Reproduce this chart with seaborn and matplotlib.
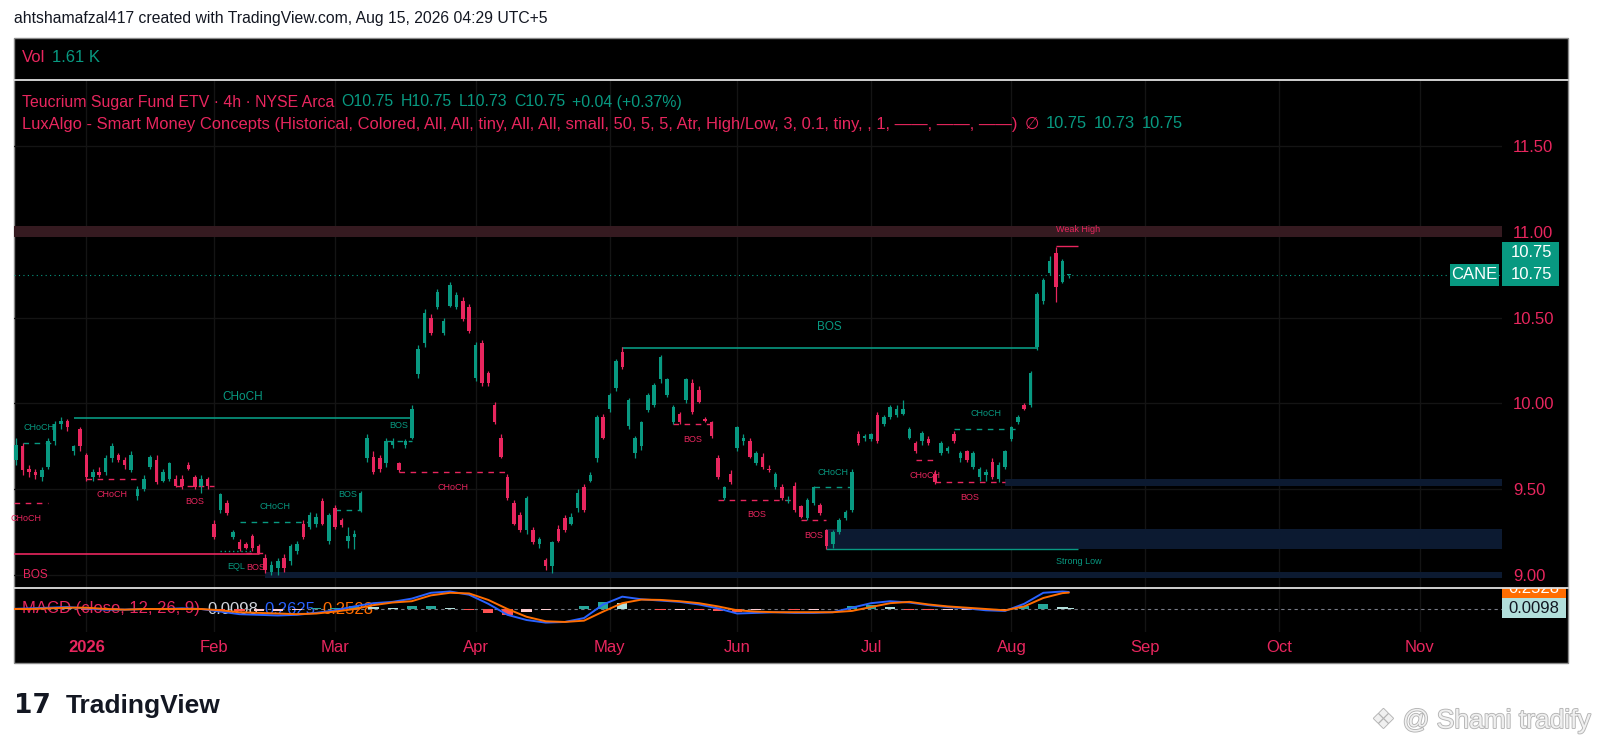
import numpy as np
import pandas as pd
import matplotlib
matplotlib.use("Agg")
import matplotlib.pyplot as plt
import matplotlib.transforms as mtransforms
import matplotlib.patheffects as pe
from matplotlib.patches import Rectangle
from matplotlib.lines import Line2D
import seaborn as sns

# ---------------------------------------------------------------- data
first_session = "2025-12-15"
market_holidays = ["2025-12-25", "2026-01-01", "2026-01-19", "2026-02-16", "2026-04-03",
                   "2026-05-25", "2026-06-19", "2026-07-03", "2026-09-07", "2026-11-26"]
month_labels = ["2026", "Feb", "Mar", "Apr", "May", "Jun", "Jul", "Aug", "Sep", "Oct", "Nov"]
price_ticks = [9.00, 9.50, 10.00, 10.50, 11.00, 11.50]

open_ = [9.62, 9.67, 9.75, 9.62, 9.60, 9.57, 9.63, 9.78, 9.88, 9.90, 9.72, 9.85,
         9.70, 9.57, 9.60, 9.60, 9.68, 9.70, 9.67, 9.61, 9.46, 9.50, 9.63, 9.67, 9.55, 9.56,
         9.56, 9.56, 9.64, 9.57, 9.52, 9.56,
         9.30, 9.38, 9.42, 9.22, 9.19, 9.18, 9.23, 9.17, 9.10, 9.02, 9.04, 9.10, 9.08, 9.14,
         9.30, 9.28, 9.30, 9.43, 9.20,
         9.39, 9.32, 9.20, 9.22, 9.38, 9.68, 9.69, 9.68, 9.65, 9.76, 9.65, 9.76, 9.80, 10.17,
         10.35, 10.50, 10.56, 10.41, 10.57, 10.56, 10.60, 10.56,
         10.15, 10.35, 10.18, 9.99, 9.80, 9.57, 9.42, 9.35, 9.26, 9.26, 9.18, 9.09, 9.05, 9.27,
         9.33, 9.30, 9.39, 9.51, 9.55, 9.68, 9.92,
         9.97, 10.09, 10.30, 9.87, 9.71, 9.75, 9.96, 9.99, 10.14, 10.05, 9.89, 9.94, 10.02,
         10.12, 10.08, 9.91, 9.89, 9.68, 9.45, 9.59,
         9.74, 9.78, 9.78, 9.65, 9.69, 9.62, 9.51, 9.51, 9.43, 9.52, 9.40, 9.33, 9.42, 9.41,
         9.26, 9.18, 9.25, 9.33, 9.38, 9.82, 9.80,
         9.79, 9.93, 9.88, 9.92, 9.93, 9.94, 9.80, 9.77, 9.78, 9.79, 9.59, 9.71, 9.72, 9.82,
         9.68, 9.72, 9.63, 9.57, 9.58, 9.66, 9.56, 9.63,
         9.79, 9.89, 9.99, 9.99, 10.33, 10.60, 10.76, 10.88, 10.71, 10.75]
high_ = [9.72, 9.80, 9.77, 9.64, 9.62, 9.63, 9.80, 9.90, 9.92, 9.91, 9.76, 9.86,
         9.71, 9.62, 9.63, 9.70, 9.77, 9.71, 9.69, 9.72, 9.52, 9.58, 9.70, 9.70, 9.62, 9.66,
         9.58, 9.58, 9.66, 9.58, 9.58, 9.57,
         9.32, 9.48, 9.44, 9.26, 9.21, 9.19, 9.24, 9.18, 9.12, 9.08, 9.10, 9.12, 9.18, 9.20,
         9.32, 9.37, 9.36, 9.45, 9.36,
         9.41, 9.33, 9.28, 9.26, 9.49, 9.82, 9.72, 9.70, 9.80, 9.80, 9.66, 9.79, 9.99, 10.34,
         10.55, 10.52, 10.67, 10.50, 10.71, 10.65, 10.62, 10.58,
         10.36, 10.37, 10.19, 10.01, 9.82, 9.59, 9.44, 9.37, 9.46, 9.28, 9.22, 9.10, 9.20, 9.29,
         9.35, 9.36, 9.50, 9.53, 9.60, 9.93, 9.94,
         10.06, 10.26, 10.33, 10.03, 9.81, 9.90, 10.06, 10.12, 10.28, 10.15, 9.99, 9.95, 10.15,
         10.14, 10.10, 9.92, 9.90, 9.70, 9.52, 9.61,
         9.87, 9.82, 9.80, 9.72, 9.71, 9.64, 9.60, 9.53, 9.46, 9.54, 9.41, 9.45, 9.52, 9.42,
         9.27, 9.26, 9.33, 9.38, 9.62, 9.84, 9.82,
         9.83, 9.95, 9.93, 9.99, 9.99, 10.02, 9.86, 9.78, 9.84, 9.81, 9.61, 9.78, 9.75, 9.84,
         9.72, 9.73, 9.72, 9.63, 9.62, 9.68, 9.66, 9.73,
         9.87, 9.93, 10.00, 10.19, 10.65, 10.73, 10.86, 10.91, 10.84, 10.75]
low_ = [9.60, 9.64, 9.58, 9.57, 9.56, 9.55, 9.62, 9.76, 9.85, 9.84, 9.70, 9.72,
        9.55, 9.55, 9.57, 9.58, 9.66, 9.66, 9.62, 9.60, 9.44, 9.49, 9.62, 9.53, 9.54, 9.55,
        9.51, 9.50, 9.61, 9.50, 9.48, 9.50,
        9.21, 9.36, 9.35, 9.21, 9.14, 9.15, 9.14, 9.12, 9.01, 9.00, 9.00, 9.02, 9.06, 9.12,
        9.21, 9.27, 9.28, 9.29, 9.18,
        9.27, 9.28, 9.16, 9.15, 9.37, 9.66, 9.59, 9.60, 9.63, 9.74, 9.60, 9.74, 9.79, 10.15,
        10.33, 10.40, 10.55, 10.40, 10.56, 10.55, 10.48, 10.41,
        10.13, 10.10, 10.10, 9.88, 9.68, 9.44, 9.29, 9.25, 9.24, 9.18, 9.16, 9.03, 9.01, 9.19,
        9.25, 9.29, 9.37, 9.37, 9.54, 9.66, 9.79,
        9.95, 10.07, 10.20, 9.85, 9.68, 9.73, 9.95, 9.98, 10.12, 10.04, 9.88, 9.88, 10.00,
        9.94, 10.00, 9.89, 9.80, 9.56, 9.44, 9.53,
        9.72, 9.76, 9.68, 9.64, 9.62, 9.60, 9.50, 9.44, 9.42, 9.37, 9.33, 9.32, 9.41, 9.35,
        9.15, 9.16, 9.24, 9.32, 9.37, 9.76, 9.78,
        9.78, 9.77, 9.87, 9.91, 9.92, 9.93, 9.79, 9.71, 9.76, 9.76, 9.53, 9.70, 9.71, 9.77,
        9.66, 9.66, 9.62, 9.55, 9.55, 9.56, 9.54, 9.62,
        9.78, 9.88, 9.96, 9.98, 10.31, 10.58, 10.75, 10.59, 10.70, 10.73]
close_ = [9.70, 9.76, 9.61, 9.60, 9.58, 9.61, 9.78, 9.88, 9.90, 9.86, 9.75, 9.75,
          9.57, 9.60, 9.58, 9.68, 9.75, 9.67, 9.64, 9.70, 9.50, 9.56, 9.69, 9.54, 9.60, 9.65,
          9.52, 9.52, 9.62, 9.51, 9.56, 9.52,
          9.22, 9.47, 9.36, 9.25, 9.15, 9.16, 9.16, 9.13, 9.03, 9.06, 9.08, 9.04, 9.17, 9.18,
          9.22, 9.35, 9.34, 9.30, 9.35,
          9.28, 9.29, 9.23, 9.24, 9.48, 9.80, 9.60, 9.62, 9.78, 9.78, 9.61, 9.78, 9.97, 10.32,
          10.53, 10.41, 10.65, 10.48, 10.69, 10.63, 10.49, 10.42,
          10.34, 10.12, 10.12, 9.89, 9.69, 9.45, 9.30, 9.26, 9.45, 9.19, 9.21, 9.05, 9.19, 9.20,
          9.26, 9.34, 9.48, 9.38, 9.58, 9.92, 9.80,
          10.05, 10.25, 10.21, 10.02, 9.80, 9.89, 10.05, 10.11, 10.27, 10.14, 9.98, 9.89, 10.14,
          9.95, 10.01, 9.90, 9.81, 9.57, 9.51, 9.54,
          9.86, 9.80, 9.69, 9.71, 9.63, 9.61, 9.59, 9.45, 9.44, 9.38, 9.34, 9.44, 9.51, 9.36,
          9.17, 9.25, 9.32, 9.37, 9.60, 9.77, 9.81,
          9.82, 9.78, 9.92, 9.98, 9.97, 9.97, 9.85, 9.72, 9.83, 9.77, 9.54, 9.77, 9.74, 9.78,
          9.71, 9.67, 9.71, 9.62, 9.60, 9.57, 9.64, 9.72,
          9.86, 9.92, 9.97, 10.18, 10.64, 10.72, 10.83, 10.68, 10.83, 10.75]

macd_session = [0, 3, 6, 9, 12, 15, 18, 21, 24, 27, 30, 33, 36, 39, 42, 45, 48, 51, 54, 57,
                60, 63, 66, 69, 72, 75, 78, 81, 84, 87, 90, 93, 96, 99, 102, 105, 108, 111,
                114, 117, 120, 123, 126, 129, 132, 135, 138, 141, 144, 147, 150, 153, 156,
                159, 162, 165, 166]
macd_line = [0.00, 0.01, 0.02, 0.03, 0.01, -0.01, -0.01, 0.00, 0.00, 0.01,
             0.00, -0.04, -0.08, -0.09, -0.10, -0.09, -0.06, -0.02, 0.04, 0.09,
             0.11, 0.16, 0.25, 0.27, 0.22, 0.08, -0.09, -0.17, -0.21, -0.20,
             -0.14, 0.07, 0.19, 0.15, 0.13, 0.11, 0.07, 0.01, -0.07, -0.06,
             -0.05, -0.06, -0.06, -0.05, 0.02, 0.09, 0.12, 0.10, 0.06, 0.03,
             0.01, -0.02, -0.03, 0.08, 0.25, 0.27, 0.2625]
signal_line = [0.00, 0.00, 0.01, 0.02, 0.02, 0.00, -0.01, 0.00, 0.00, 0.00,
               0.00, -0.02, -0.05, -0.06, -0.07, -0.08, -0.07, -0.04, 0.00, 0.06,
               0.10, 0.12, 0.21, 0.25, 0.24, 0.14, 0.00, -0.12, -0.19, -0.20,
               -0.18, -0.04, 0.09, 0.145, 0.14, 0.12, 0.09, 0.04, -0.02, -0.04,
               -0.05, -0.05, -0.05, -0.05, -0.03, 0.03, 0.09, 0.11, 0.07, 0.04,
               0.02, 0.00, -0.02, 0.04, 0.17, 0.245, 0.2528]

# Smart Money Concepts structure (session index where it starts / ends, level)
swing_start = [-31, 10, 96]
swing_end = [39, 63, 161]
swing_level = [9.12, 9.915, 10.325]
swing_text = ["BOS", "CHoCH", "BOS"]
swing_bull = [False, True, True]

int_start = [-1, 2, 12, 26, 36, 51, 59, 61, 104, 111, 124, 126, 142, 145, 148, 37]
int_end = [6, 7, 20, 32, 47, 55, 63, 78, 110, 123, 128, 132, 145, 156, 158, 40]
int_level = [9.42, 9.77, 9.56, 9.52, 9.31, 9.38, 9.78, 9.60, 9.88, 9.44, 9.32, 9.51,
             9.67, 9.54, 9.85, 9.13]
int_text = ["CHoCH", "CHoCH", "CHoCH", "BOS", "CHoCH", "BOS", "BOS", "CHoCH", "BOS", "BOS",
            "BOS", "CHoCH", "CHoCH", "BOS", "CHoCH", "BOS"]
int_bull = [False, True, False, False, True, True, True, False, False, False,
            False, True, False, False, True, False]

eql_start, eql_end, eql_level = 33, 38, 9.14

zone_start = [-5, 40, 128, 156]
zone_low = [10.97, 8.98, 9.15, 9.52]
zone_high = [11.035, 9.02, 9.27, 9.56]
zone_color = ["#351a20", "#0c1a31", "#0c1a31", "#0c1a31"]

trail_start = [164, 128]
trail_end = [167.5, 167.5]
trail_level = [10.92, 9.15]
trail_text = ["Weak High", "Strong Low"]
trail_bull = [False, True]

title_text = "ahtshamafzal417 created with TradingView.com, Aug 15, 2026 04:29 UTC+5"
legend_symbol = "Teucrium Sugar Fund ETV \u00b7 4h \u00b7 NYSE Arca"
legend_ohlc = ["O10.75", "H10.75", "L10.73", "C10.75", "+0.04 (+0.37%)"]
legend_smc = ("LuxAlgo - Smart Money Concepts (Historical, Colored, All, All, tiny, All, All, "
              "small, 50, 5, 5, Atr, High/Low, 3, 0.1, tiny, , 1, \u2014\u2014, \u2014\u2014, \u2014\u2014)")
legend_smc_vals = ["10.75", "10.73", "10.75"]
macd_title = "MACD (close, 12, 26, 9)"
macd_vals_txt = ["0.0098", "0.2625", "0.2528"]
vol_text = "1.61 K"

# ---------------------------------------------------------------- style
sns.set_theme(style="dark", rc={"axes.facecolor": "black", "figure.facecolor": "white"})
plt.rcParams["font.family"] = ["Liberation Sans", "DejaVu Sans"]

GREEN = "#089981"
RED = "#e8265e"
BLUE = "#2962ff"
ORANGE = "#ff6d00"
GRID = "#141414"

W, H, DPI = 1600, 746, 100
fig = plt.figure(figsize=(W / DPI, H / DPI), dpi=DPI)
fig.patch.set_facecolor("white")


def box(x0, y0, x1, y1):
    return [x0 / W, 1 - y1 / H, (x1 - x0) / W, (y1 - y0) / H]


FX0, FX1, FY0, FY1 = 14, 1568, 38, 663
PX1 = 1502
VOL_Y1, MAIN_Y1, MACD_Y1 = 80, 588, 632

fig.patches.append(Rectangle((FX0 / W, 1 - FY1 / H), (FX1 - FX0) / W, (FY1 - FY0) / H,
                             transform=fig.transFigure, facecolor="black",
                             edgecolor="#8a8a8a", lw=1.0, zorder=-10))

ax = fig.add_axes(box(FX0, VOL_Y1, PX1, MAIN_Y1))
axm = fig.add_axes(box(FX0, MAIN_Y1, PX1, MACD_Y1), sharex=ax)
axp = fig.add_axes(box(PX1, VOL_Y1, FX1, MAIN_Y1))
axq = fig.add_axes(box(PX1, MAIN_Y1, FX1, MACD_Y1))
for a in (ax, axm, axp, axq):
    a.set_facecolor("none")
    for s in a.spines.values():
        s.set_visible(False)

sessions = pd.bdate_range(first_session, "2026-12-31", freq="C", holidays=market_holidays)
month_pos = [int(np.argmax((sessions.year == 2026) & (sessions.month == m))) for m in range(1, 12)]

view_first, view_last = 0.65, 233.9
ax.set_xlim(view_first, view_last)
ax.set_ylim(8.924, 11.886)
axm.set_ylim(-0.355, 0.324)
axp.set_xlim(0, 1); axp.set_ylim(ax.get_ylim()); axp.axis("off")
axq.set_xlim(0, 1); axq.set_ylim(axm.get_ylim()); axq.axis("off")

# grid + ticks
ax.set_xticks(month_pos)
ax.set_yticks(price_ticks)
ax.set_yticklabels([f"{v:.2f}" for v in price_ticks])
ax.yaxis.tick_right()
ax.tick_params(axis="y", length=0, pad=8, labelsize=12, labelcolor=RED)
ax.tick_params(axis="x", length=0, labelbottom=False)
ax.grid(True, color=GRID, lw=1)
ax.set_axisbelow(True)
axm.set_yticks([])
axm.tick_params(axis="x", length=0, pad=6, labelsize=12, labelcolor=RED, labelbottom=True)
axm.set_xticklabels(month_labels)
axm.get_xticklabels()[0].set_fontweight("bold")
axm.grid(True, axis="x", color=GRID, lw=1)
axm.set_axisbelow(True)

# zones
for s, lo, hi, col in zip(zone_start, zone_low, zone_high, zone_color):
    ax.add_patch(Rectangle((s, lo), view_last - s, hi - lo, facecolor=col, edgecolor="none", zorder=1))

# current price line
ax.axhline(close_[-1], color=GREEN, lw=0.8, ls=(0, (1, 3)), zorder=1.5)

# candles
o = np.array(open_); h = np.array(high_); l = np.array(low_); c = np.array(close_)
idx = np.arange(len(c))
cols = np.where(c >= o, GREEN, RED)
ax.vlines(idx, l, h, colors=cols, lw=0.9, zorder=3)
ax.bar(idx, np.maximum(np.abs(c - o), 0.006), bottom=np.minimum(o, c), width=0.55,
       color=cols, linewidth=0, zorder=3)

# swing structure
for s, e, lv, t, b in zip(swing_start, swing_end, swing_level, swing_text, swing_bull):
    col = GREEN if b else RED
    ax.hlines(lv, s, e, colors=col, lw=1.2, zorder=2)
    ax.annotate(t, xy=((s + e) / 2, lv), xytext=(0, 15 if b else -15), textcoords="offset points",
                ha="center", va="center", color=col, fontsize=8.5, zorder=4)
# internal structure
for s, e, lv, t, b in zip(int_start, int_end, int_level, int_text, int_bull):
    col = GREEN if b else RED
    ax.hlines(lv, s, e, colors=col, lw=1.0, linestyles=(0, (4, 4)), zorder=2)
    ax.annotate(t, xy=((s + e) / 2, lv), xytext=(0, 11 if b else -11), textcoords="offset points",
                ha="center", va="center", color=col, fontsize=6.5, zorder=4)
# equal lows
ax.hlines(eql_level, eql_start, eql_end, colors=GREEN, lw=1.0, linestyles=(0, (1, 2)), zorder=2)
ax.annotate("EQL", xy=((eql_start + eql_end) / 2, eql_level), xytext=(0, -11),
            textcoords="offset points", ha="center", va="center", color=GREEN, fontsize=6.5)
# trailing extremes
for s, e, lv, t, b in zip(trail_start, trail_end, trail_level, trail_text, trail_bull):
    col = GREEN if b else RED
    ax.hlines(lv, s, e, colors=col, lw=1.0, zorder=2)
    ax.annotate(t, xy=(e, lv), xytext=(0, -9 if b else 12), textcoords="offset points",
                ha="center", va="center", color=col, fontsize=6.5)

# MACD pane
ms = np.array(macd_session)
mv = np.array(macd_line); sv = np.array(signal_line)
hist = mv - sv
prev = np.concatenate([[0.0], hist[:-1]])
hcols = np.where(hist >= 0, np.where(hist >= prev, "#26a69a", "#b2dfdb"),
                 np.where(hist >= prev, "#ffcdd2", "#ff5252"))
axm.axhline(0, color="#787b86", lw=0.8, ls=(0, (3, 3)), zorder=1)
axm.bar(ms, hist, width=1.6, color=hcols, linewidth=0, zorder=2)
sns.lineplot(x=ms, y=mv, ax=axm, color=BLUE, lw=1.4, zorder=3)
sns.lineplot(x=ms, y=sv, ax=axm, color=ORANGE, lw=1.4, zorder=3)
axm.set_xlabel(""); axm.set_ylabel("")
axm.set_xlim(view_first, view_last)

# separators
for yy in (VOL_Y1, MAIN_Y1):
    fig.add_artist(Line2D([FX0 / W, FX1 / W], [1 - yy / H] * 2, color="#e0e0e0", lw=1.3))

# price-scale tags
ptrans = mtransforms.blended_transform_factory(axp.transAxes, axp.transData)
bh = 0.128
last = close_[-1]
for yc, txt in ((last + bh, f"{last:.2f}"), (last, f"{last:.2f}")):
    axp.add_patch(Rectangle((0, yc - bh / 2), 0.87, bh, transform=ptrans, facecolor=GREEN,
                            edgecolor="none", clip_on=False))
    axp.text(0.44, yc, txt, transform=ptrans, ha="center", va="center", color="white",
             fontsize=12, clip_on=False)
ctrans = mtransforms.blended_transform_factory(fig.transFigure, ax.transData)
ax.add_patch(Rectangle((1450 / W, last - bh / 2), 49 / W, bh, transform=ctrans,
                       facecolor=GREEN, edgecolor="none", clip_on=False, zorder=6))
ax.text(1474.5 / W, last, "CANE", transform=ctrans, ha="center", va="center", color="white",
        fontsize=12, clip_on=False, zorder=7)

qtrans = mtransforms.blended_transform_factory(axq.transAxes, axq.transData)
mh = 0.309
h_last = hist[-1]
axq.add_patch(Rectangle((0, h_last + mh / 2), 0.97, mh, transform=qtrans, facecolor=ORANGE,
                        edgecolor="none"))
axq.text(0.48, h_last + mh, macd_vals_txt[2], transform=qtrans, ha="center", va="center",
         color="white", fontsize=12, clip_on=True)
axq.add_patch(Rectangle((0, h_last - mh / 2), 0.97, mh, transform=qtrans, facecolor="#b2dfdb",
                        edgecolor="none"))
axq.text(0.48, h_last, macd_vals_txt[0], transform=qtrans, ha="center", va="center",
         color="#131722", fontsize=12)

# legends / texts
renderer = fig.canvas.get_renderer()


def chain(x_px, y_px, pieces, size, gap=7, host=None, z=5):
    x = x_px
    for txt, col in pieces:
        if host is None:
            t = fig.text(x / W, 1 - y_px / H, txt, color=col, fontsize=size, va="center", ha="left")
        else:
            t = host.text(x / W, 1 - y_px / H, txt, color=col, fontsize=size, va="center",
                          ha="left", transform=fig.transFigure, zorder=z, clip_on=False)
        x += t.get_window_extent(renderer=renderer).width + gap


fig.text(14 / W, 1 - 18 / H, title_text, color="#131722", fontsize=11.3, va="center", ha="left")
chain(22, 58, [("Vol", RED), (vol_text, GREEN)], 12)
chain(22, 102, [(legend_symbol, RED)] + [(t, GREEN) for t in legend_ohlc], 11.4)
chain(22, 124, [(legend_smc, RED), ("\u2205", RED)] + [(t, GREEN) for t in legend_smc_vals], 11.9)
chain(22, 609, [(macd_title, RED), (macd_vals_txt[0], "#d1d4dc"), (macd_vals_txt[1], BLUE),
                (macd_vals_txt[2], ORANGE)], 12, host=axm, z=1)

# footer
fig.text(14 / W, 1 - 706 / H, "17", color="#131722", fontsize=19, fontweight="black",
         va="center", ha="left", family="DejaVu Sans")
fig.text(66 / W, 1 - 706 / H, "TradingView", color="#131722", fontsize=19, fontweight="bold",
         va="center", ha="left")
wm = fig.text(1591 / W, 1 - 721 / H, "\u2756 @ Shami tradify", color="#f0f0f0", fontsize=19,
              va="center", ha="right", family=["Liberation Sans", "DejaVu Sans"])
wm.set_path_effects([pe.withStroke(linewidth=1.3, foreground="#b4b4b4")])

fig.savefig("out.png", dpi=DPI)
